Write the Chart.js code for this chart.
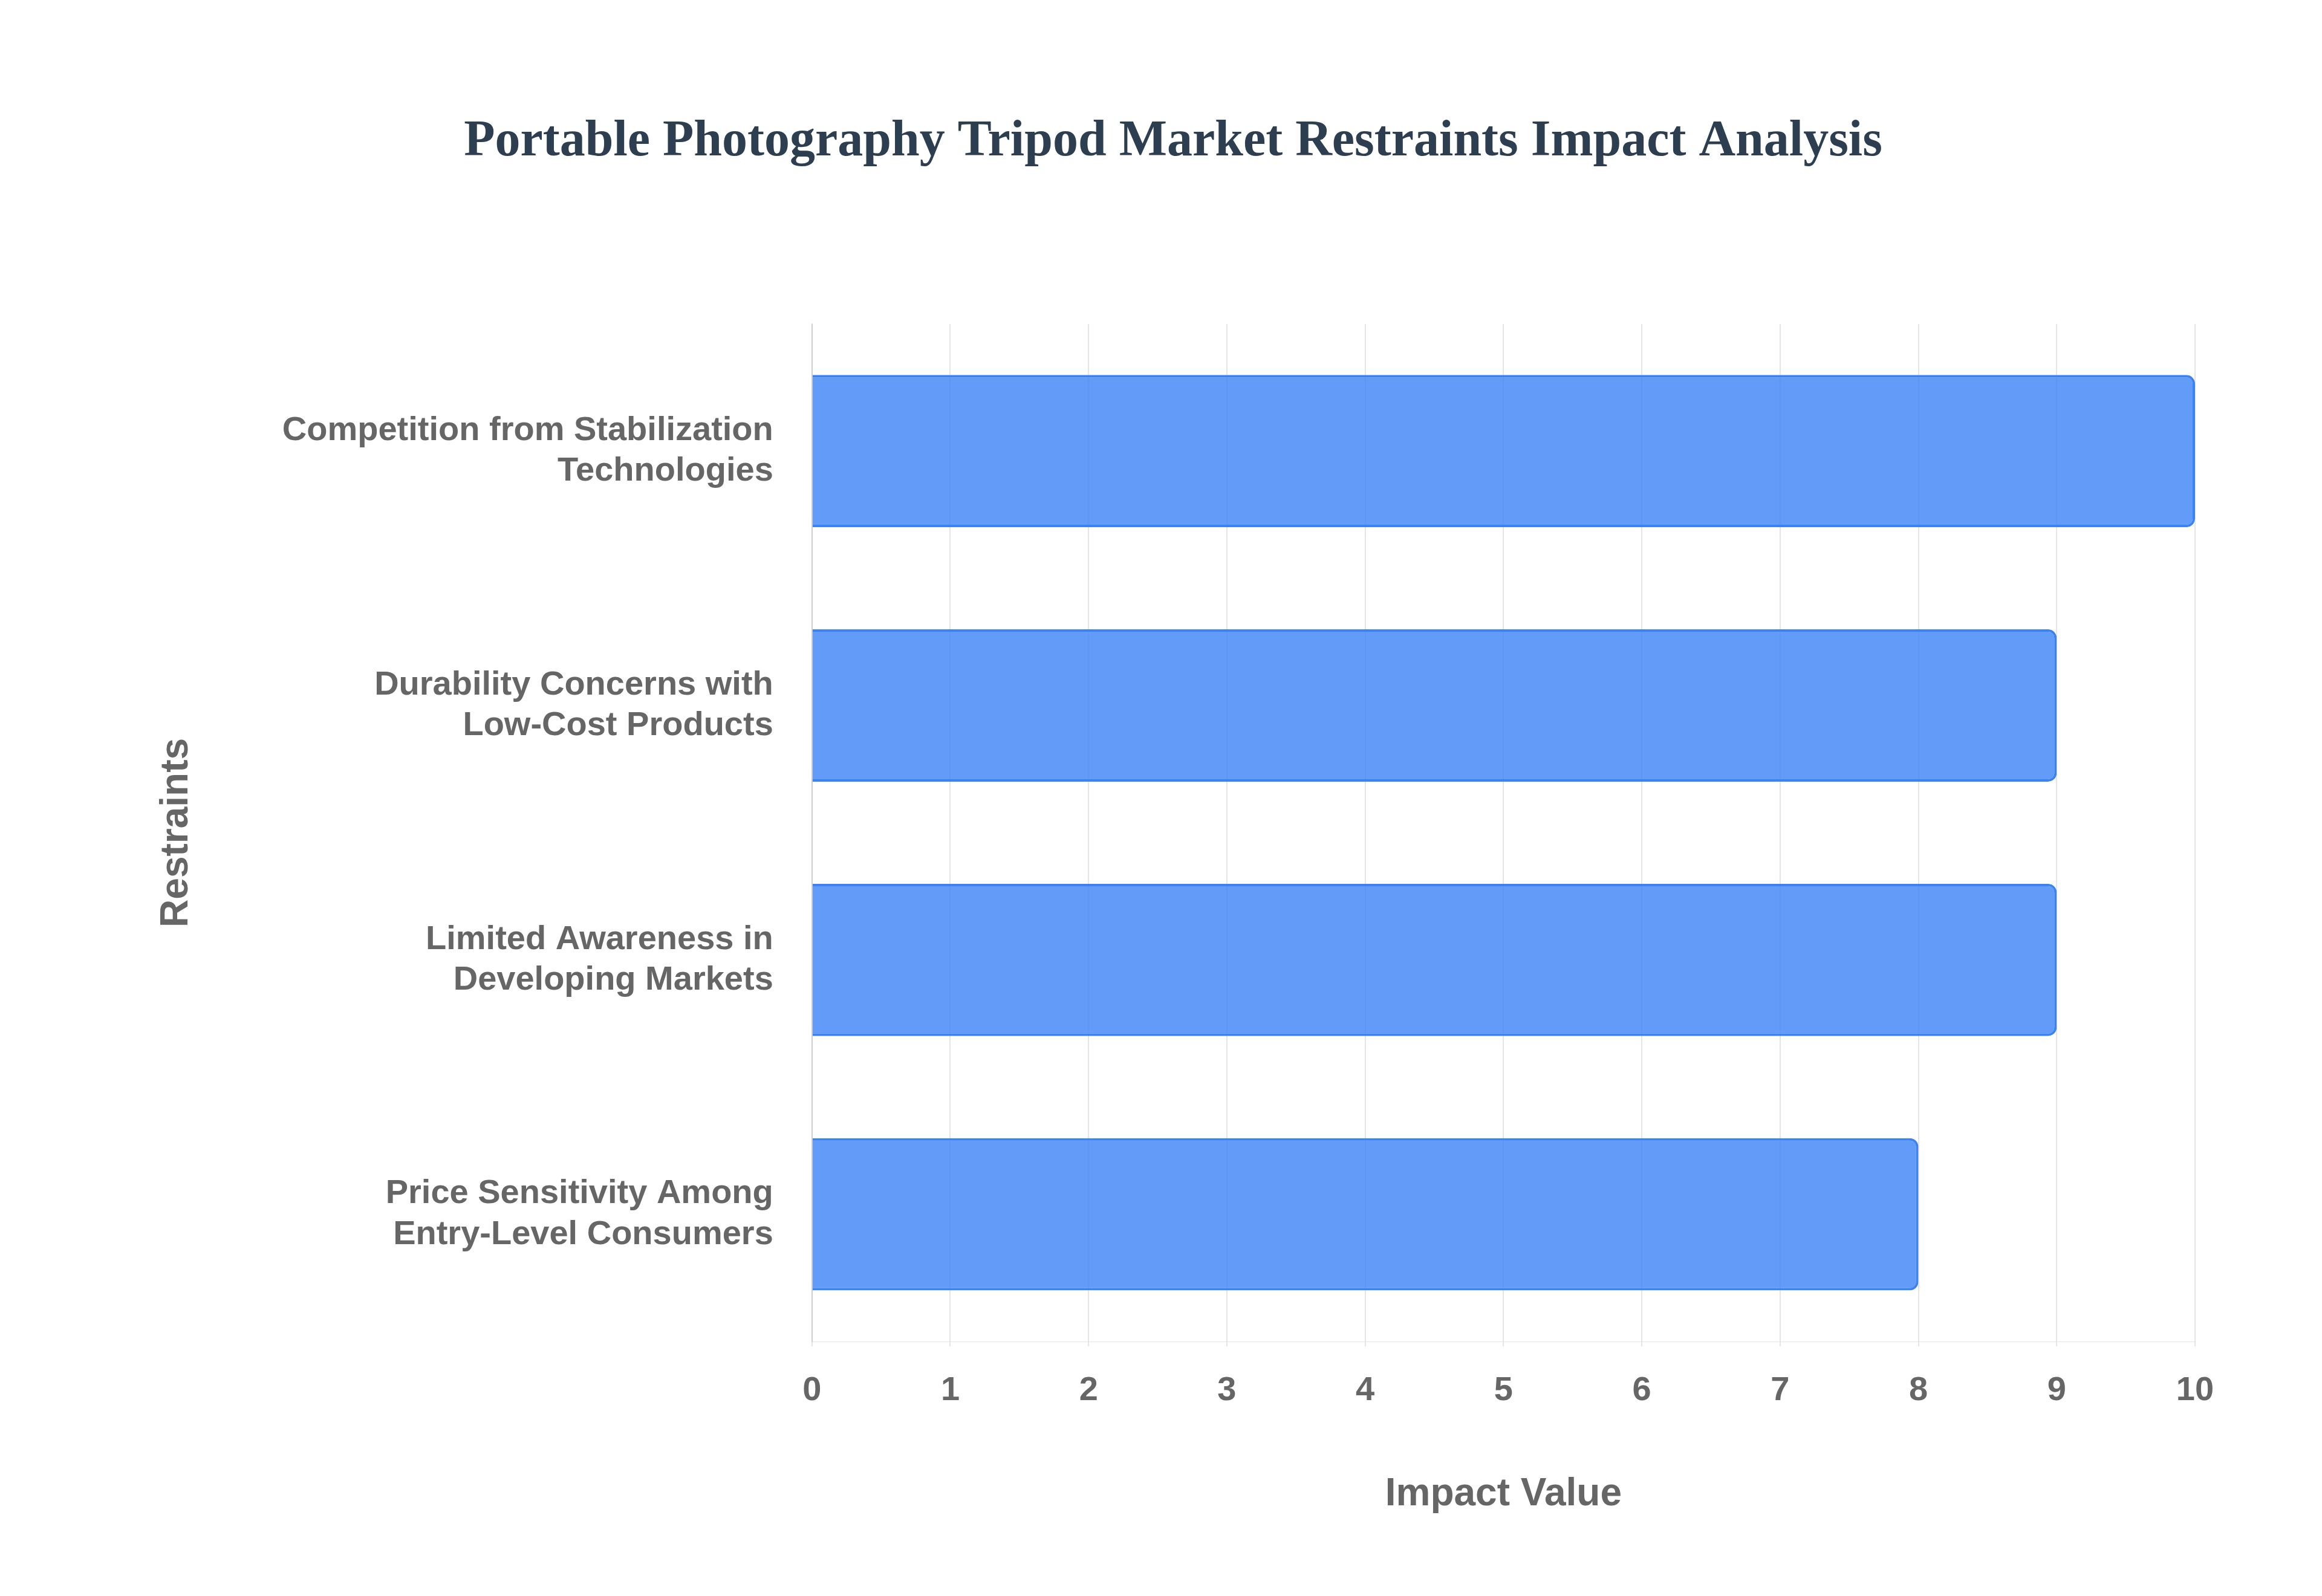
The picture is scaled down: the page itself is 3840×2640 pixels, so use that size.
<!DOCTYPE html>
<html><head><meta charset="utf-8">
<script src="https://cdn.jsdelivr.net/npm/chart.js@4"></script>
<style>html,body{margin:0;padding:0;background:#fff}#w{width:3840px;height:2640px}</style>
</head><body><div id="w"><canvas id="c"></canvas></div>
<script>
const categories = [
  ["Competition from Stabilization","Technologies"],
  ["Durability Concerns with","Low-Cost Products"],
  ["Limited Awareness in","Developing Markets"],
  ["Price Sensitivity Among","Entry-Level Consumers"]
];
const impactValues = [10, 9, 9, 8];
const xTicks = [0,1,2,3,4,5,6,7,8,9,10];

new Chart(document.getElementById('c'), {
  type: 'bar',
  data: { labels: categories, datasets: [{
    data: impactValues,
    backgroundColor: 'rgba(59,130,246,0.8)',
    borderColor: 'rgb(59,130,246)',
    borderWidth: 4, borderRadius: 14, borderSkipped: 'start',
    barPercentage: 0.68, categoryPercentage: 0.88
  }]},
  options: {
    indexAxis: 'y', responsive: true, maintainAspectRatio: false, devicePixelRatio: 1, animation: false,
    layout: { padding: { left: 250, right: 210, top: 185, bottom: 125 } },
    plugins: {
      legend: { display: false },
      title: { display: true, text: 'Portable Photography Tripod Market Restraints Impact Analysis',
        color: '#2c3e50', font: { family: 'Liberation Serif', size: 84, weight: 'bold' },
        padding: { top: 0, bottom: 250 } }
    },
    scales: {
      x: { min: 0, max: 10, afterBuildTicks: a => { a.ticks = xTicks.map(v => ({value: v})); },
        grid: { color: 'rgba(0,0,0,0.1)', lineWidth: 2 },
        ticks: { color: '#666', font: { family: 'Liberation Sans', size: 56, weight: 'bold' }, padding: 40 },
        title: { display: true, text: 'Impact Value', color: '#666', font: { family: 'Liberation Sans', size: 64, weight: 'bold' }, padding: { top: 60 } } },
      y: { grid: { display: false }, border: { color: 'rgba(0,0,0,0.1)', width: 2 },
        ticks: { color: '#666', font: { family: 'Liberation Sans', size: 56, weight: 'bold' }, padding: 56 },
        title: { display: true, text: 'Restraints', color: '#666', font: { family: 'Liberation Sans', size: 64, weight: 'bold' }, padding: { bottom: 80 } } }
    }
  }
});
</script></body></html>
